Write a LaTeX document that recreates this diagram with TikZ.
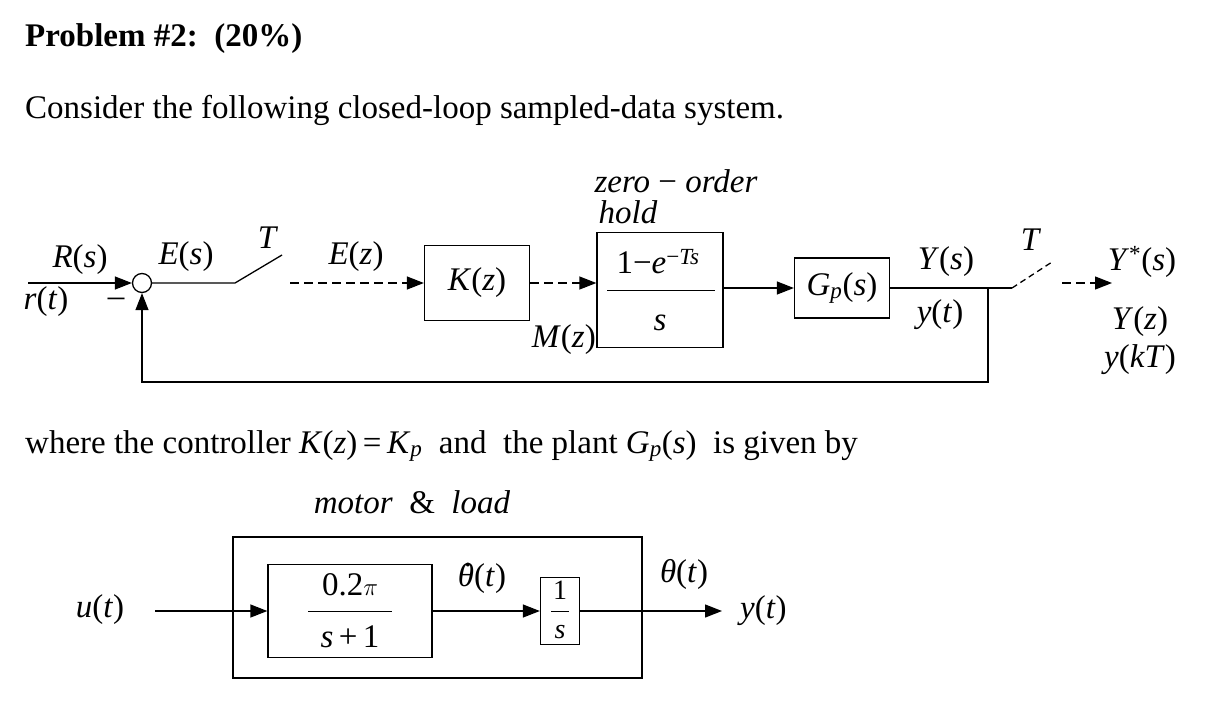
\documentclass[tikz,border=0pt]{standalone}
\usepackage{fontspec}
\setmainfont{Liberation Serif}
\usetikzlibrary{arrows.meta}
\newcommand{\mi}[1]{\textit{#1}}
\newcommand{\sbp}{\textsubscript{\mi{p}}}
\begin{document}
\begin{tikzpicture}[x=1pt,y=-1pt,
  every node/.style={font=\fontsize{33}{38}\selectfont, inner sep=0pt},
  blk/.style={draw, line width=1.3pt},
  sig/.style={line width=1.3pt},
  arr/.style={sig,-{Triangle[length=17pt,width=13pt]}},
  darr/.style={arr,dash pattern=on 9pt off 5pt}]
\useasboundingbox (0,0) rectangle (1230,712);
\node[anchor=base west,font=\bfseries\fontsize{33}{38}\selectfont] (title) at (25,46) {Problem \#2:\ \ (20\%)};
\node[anchor=base west] (intro) at (25,118) {Consider the following closed-loop sampled-data system.};
% top diagram
\coordinate (in) at (28,283);
\node[draw,circle,minimum size=19pt,line width=1.3pt] (sum) at (142,283) {};
\coordinate (sw1a) at (235,283);
\coordinate (sw1b) at (282,255);
\node[blk,minimum width=105pt,minimum height=75pt] (K) at (477,283) {\mi{K}(\mi{z})};
\node[blk,minimum width=126pt,minimum height=115pt] (zoh) at (660,290) {};
\node (num) at (658,262) {1−\mi{e}\textsuperscript{−\mi{Ts}}};
\node (den) at (660,323) {\mi{s}};
\draw[line width=0.8pt] (607,290) -- (715,290);
\node[blk,minimum width=95pt,minimum height=60pt] (G) at (842,288) {\mi{G}\sbp(\mi{s})};
\coordinate (br) at (988,288);
\coordinate (sw2a) at (1012,288);
\coordinate (sw2b) at (1052,262);
\coordinate (ystar) at (1112,283);
\coordinate (fb1) at (988,382);
\coordinate (fb2) at (142,382);
\draw[arr] (in) -- (sum);
\draw[sig] (sum) -- (sw1a) -- (sw1b);
\draw[darr] (290,283) -- (K.west);
\draw[darr] (K.east) -- (zoh.west|-K.east);
\draw[arr] (zoh.east|-G.west) -- (G.west);
\draw[sig] (G.east) -- (sw2a);
\draw[sig,dash pattern=on 6pt off 4pt] (sw2a) -- (sw2b);
\draw[darr] (1062,283) -- (ystar);
\draw[arr] (br) -- (fb1) -- (fb2) -- (sum);
\node (zo) at (676,181) {\mi{zero} − \mi{order}};
\node (hd) at (628,212) {\mi{hold}};
\node (Rs) at (80,260) {\mi{R}(\mi{s})};
\node (rt) at (46,302) {\mi{r}(\mi{t})};
\node (mn) at (116,298) {\_};
\node (Es) at (186,257) {\mi{E}(\mi{s})};
\node (T1) at (268,238) {\mi{T}};
\node (Ez) at (356,257) {\mi{E}(\mi{z})};
\node[anchor=east] (Mz) at (596,340) {\mi{M}(\mi{z})};
\node (Ys) at (946,262) {\mi{Y}(\mi{s})};
\node (yt) at (940,315) {\mi{y}(\mi{t})};
\node (T2) at (1031,240) {\mi{T}};
\node (Yss) at (1142,262) {\mi{Y}\textsuperscript{*}(\mi{s})};
\node (Yz) at (1140,322) {\mi{Y}(\mi{z})};
\node (ykT) at (1140,360) {\mi{y}(\mi{kT})};
% text
\node[anchor=base west] (where) at (25,453) {where the controller \mi{K}(\mi{z})\,=\,\mi{K}\sbp\ \ and\ \ the plant \mi{G}\sbp(\mi{s})\ \ is given by};
\node (ml) at (412,502) {\mi{motor}\ \ \&\ \ \mi{load}};
% bottom diagram
\node[blk,minimum width=409pt,minimum height=141pt] (outer) at (437.5,607.5) {};
\node[blk,minimum width=164pt,minimum height=93pt] (P1) at (350,611) {};
\node (pn) at (350,585) {0.2$\pi$};
\node (pd) at (350,637) {\mi{s}\,+\,1};
\draw[line width=0.8pt] (308,611) -- (392,611);
\node[blk,minimum width=39pt,minimum height=67pt] (P2) at (560,611) {};
\node[font=\fontsize{28}{32}\selectfont] (in1) at (560,590) {1};
\node[font=\fontsize{28}{32}\selectfont] (in2) at (560,632) {\mi{s}};
\draw[line width=0.8pt] (551,611) -- (569,611);
\node (ut) at (100,610) {\mi{u}(\mi{t})};
\coordinate (uin) at (155,611);
\coordinate (yout) at (722,611);
\node[anchor=west] (yt2) at (740,611) {\mi{y}(\mi{t})};
\node (thd) at (482,578) {\mi{\rlap{\kern0.2em\raisebox{0.6em}{.}}θ}(\mi{t})};
\node (th) at (684,574) {\mi{θ}(\mi{t})};
\draw[arr] (uin) -- (P1.west);
\draw[arr] (P1.east) -- (P2.west);
\draw[arr] (P2.east) -- (yout);
\end{tikzpicture}
\end{document}
